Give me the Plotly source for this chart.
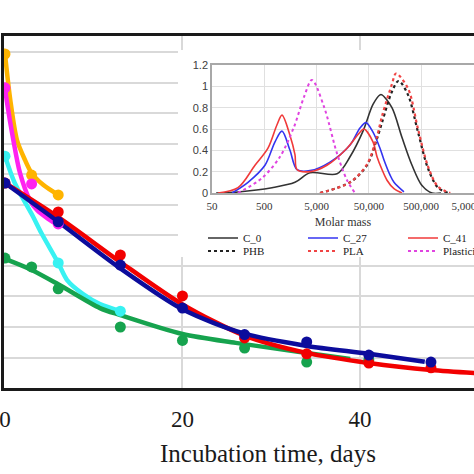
import plotly.graph_objects as go

# ---------------- main chart data (incubation time, days) ----------------
orange_days = [0, 3, 6]
orange_vals = [10.95, 6.98, 6.33]
orange_fit_t = [0, 0.6, 1.35, 2.25, 3.0, 4.3, 6.0]
orange_fit_v = [10.95, 9.44, 8.13, 7.48, 7.05, 6.66, 6.33]

magenta_days = [0, 3, 6]
magenta_vals = [9.84, 6.69, 5.38]
magenta_fit_t = [0, 0.19, 0.94, 1.69, 2.8, 3.6, 5.4, 6.0]
magenta_fit_v = [9.84, 9.44, 8.13, 7.05, 6.16, 5.84, 5.44, 5.38]

cyan_days = [0, 6, 13]
cyan_vals = [7.6, 4.1, 2.52]
cyan_fit_t = [0, 1.1, 3.2, 4.1, 6.0, 7.0, 8.8, 10.7, 13.0]
cyan_fit_v = [7.6, 6.72, 5.6, 5.08, 4.1, 3.54, 3.08, 2.75, 2.52]

red_days = [0, 6, 13, 20, 27, 34, 41, 48]
red_vals = [6.72, 5.77, 4.36, 3.02, 1.64, 1.12, 0.82, 0.66]
red_fit_t = [0, 6, 13, 20, 27, 34, 41, 48, 52.9]
red_fit_v = [6.72, 5.6, 4.13, 2.74, 1.72, 1.15, 0.82, 0.59, 0.49]

navy_days = [0, 6, 13, 20, 27, 34, 41, 48]
navy_vals = [6.72, 5.45, 4.03, 2.62, 1.75, 1.51, 1.08, 0.85]
navy_fit_t = [0, 6, 13, 20, 27, 34, 41, 47.3]
navy_fit_v = [6.72, 5.45, 3.92, 2.58, 1.78, 1.38, 1.12, 0.86]

green_days = [0, 3, 6, 13, 20, 27, 34, 41]
green_vals = [4.26, 3.97, 3.25, 2.0, 1.56, 1.31, 0.85, 0.92]
green_fit_t = [0, 3, 6, 10.7, 13, 20, 26, 34, 38.9]
green_fit_v = [4.23, 3.87, 3.4, 2.62, 2.39, 1.77, 1.48, 1.15, 0.95]

# ---------------- inset data (molar mass distributions) ----------------
c0_M = [60, 157, 702, 1930, 3740, 12300, 21800, 38600, 59900, 81500, 89000,
        138000, 215000, 334000, 518000, 804000, 1200000]
c0_v = [0, 0.01, 0.05, 0.10, 0.19, 0.18, 0.34, 0.58, 0.83, 0.92, 0.92,
        0.80, 0.52, 0.26, 0.07, 0, 0]

c27_M = [121, 244, 515, 801, 1090, 1550, 2110, 3740, 9020, 21800, 33800,
         44000, 59900, 81500, 97200, 126500, 151000, 234000]
c27_v = [0, 0.1, 0.26, 0.48, 0.58, 0.40, 0.22, 0.21, 0.29, 0.45, 0.61,
         0.66, 0.57, 0.42, 0.31, 0.17, 0.1, 0.01]

c41_M = [65, 157, 332, 588, 875, 1090, 1550, 1930, 2110, 3740, 7900, 19100,
         33800, 40300, 59900, 71500, 89000, 111000, 151000, 215000]
c41_v = [0, 0.05, 0.26, 0.42, 0.64, 0.73, 0.54, 0.36, 0.22, 0.2, 0.26, 0.42,
         0.57, 0.6, 0.48, 0.34, 0.22, 0.12, 0.04, 0]

phb_M = [5810, 21800, 46000, 71500, 89000, 138000, 185000, 280000, 435000,
         675000, 1047000, 1626000]
phb_v = [0, 0.1, 0.26, 0.51, 0.66, 0.95, 1.05, 0.92, 0.57, 0.23, 0.05, 0]

pla_M = [5810, 21800, 46000, 71500, 89000, 138000, 165000, 280000, 435000,
         675000, 1047000, 1800000]
pla_v = [0, 0.1, 0.27, 0.53, 0.72, 1.02, 1.12, 0.98, 0.60, 0.25, 0.06, 0]

plast_M = [157, 452, 998, 1850, 2870, 4080, 6920, 12300, 19100, 27100]
plast_v = [0, 0.14, 0.34, 0.62, 0.9, 1.06, 0.81, 0.37, 0.12, 0]

inset_tickvals = [50, 500, 5000, 50000, 500000, 5000000]
inset_ticktext = ["50", "500", "5,000", "50,000", "500,000", "5,000,000"]
main_tickvals = [0, 20, 40]

SERIF = "Liberation Serif, Times New Roman, serif"
SANS = "Liberation Sans, Arial, sans-serif"

fig = go.Figure()

main_series = [
    ("Series A", orange_days, orange_vals, orange_fit_t, orange_fit_v, "#FFB400"),
    ("Series B", magenta_days, magenta_vals, magenta_fit_t, magenta_fit_v, "#FF22F0"),
    ("Series C", cyan_days, cyan_vals, cyan_fit_t, cyan_fit_v, "#38F2F2"),
    ("Series F", green_days, green_vals, green_fit_t, green_fit_v, "#16A34E"),
    ("Series D", red_days, red_vals, red_fit_t, red_fit_v, "#F20000"),
    ("Series E", navy_days, navy_vals, navy_fit_t, navy_fit_v, "#0C0C9C"),
]
for name, dx, dy, ft, fv, col in main_series:
    fig.add_trace(go.Scatter(x=ft, y=fv, mode="lines", line=dict(color=col, width=4.5, shape="spline", smoothing=0.8),
                             name=name + " fit", showlegend=False, hoverinfo="skip", xaxis="x", yaxis="y"))
for name, dx, dy, ft, fv, col in main_series:
    fig.add_trace(go.Scatter(x=dx, y=dy, mode="markers", marker=dict(color=col, size=11),
                             name=name, showlegend=False, xaxis="x", yaxis="y"))

inset_series = [
    ("C_0", c0_M, c0_v, "#333333", "solid", 1.6, "legend"),
    ("C_27", c27_M, c27_v, "#3434F0", "solid", 1.6, "legend"),
    ("C_41", c41_M, c41_v, "#F03A3A", "solid", 1.6, "legend"),
    ("PHB", phb_M, phb_v, "#222222", "dot", 2.2, "legend2"),
    ("PLA", pla_M, pla_v, "#F04444", "dot", 2.2, "legend2"),
    ("Plasticizer", plast_M, plast_v, "#E044E0", "dot", 2.0, "legend2"),
]
for name, mx, my, col, dash, w, lg in inset_series:
    fig.add_trace(go.Scatter(x=mx, y=my, mode="lines", name=name, legend=lg,
                             line=dict(color=col, width=w, dash=dash, shape="spline", smoothing=0.9),
                             xaxis="x2", yaxis="y2"))

# pixel geometry helpers for layout
L, R, T, B = 4, 0, 36, 86
PW, PH = 474 - L - R, 474 - T - B
def px_x(p):
    return (p - L) / PW
def px_y(p):
    return (474 - B - p) / PH

x_range = [-0.11, 52.85]
y_range = [0, 11.54]
def day_of(p):
    return x_range[0] + (p - L) / PW * (x_range[1] - x_range[0])
def val_of(p):
    return y_range[0] + (474 - B - p) / PH * (y_range[1] - y_range[0])

legend_common = dict(orientation="h", xanchor="left", yanchor="middle",
                     entrywidth=55, entrywidthmode="pixels", bgcolor="rgba(0,0,0,0)",
                     font=dict(family=SERIF, size=11, color="#222222"), itemwidth=30)

fig.update_layout(
    width=474, height=474,
    margin=dict(l=L, r=R, t=T, b=B, autoexpand=False),
    paper_bgcolor="white", plot_bgcolor="white",
    xaxis=dict(domain=[0, 1], range=x_range, tickvals=main_tickvals, showgrid=True,
               gridcolor="#d9d9d9", gridwidth=2, showline=True, linecolor="#1a1a1a",
               linewidth=2.5, mirror=True, ticks="", zeroline=False, ticklabeloverflow="allow",
               tickfont=dict(family=SERIF, size=23, color="#1a1a1a"), ticklabelstandoff=9),
    yaxis=dict(domain=[0, 1], range=y_range, dtick=1, showgrid=True, gridcolor="#d9d9d9",
               gridwidth=2, showline=True, linecolor="#1a1a1a", linewidth=2.5, mirror=False,
               ticks="", showticklabels=False, zeroline=False),
    xaxis2=dict(domain=[px_x(212), 1.0], anchor="y2", type="log",
                range=[1.69897, 6.709], tickvals=inset_tickvals, ticktext=inset_ticktext,
                showgrid=True, gridcolor="#e0e0e0", gridwidth=1, showline=True,
                linecolor="#a8a8a8", linewidth=1.5, mirror=True, ticks="", ticklabeloverflow="allow",
                tickfont=dict(family=SERIF, size=11, color="#333333"), ticklabelstandoff=2,
                title=dict(text="Molar mass", font=dict(family=SERIF, size=12, color="#333333"), standoff=7)),
    yaxis2=dict(domain=[px_y(193), px_y(65)], anchor="x2", range=[0, 1.2], dtick=0.2,
                showgrid=True, gridcolor="#e0e0e0", gridwidth=1, showline=True,
                linecolor="#a8a8a8", linewidth=1.5, ticks="", zeroline=False,
                tickfont=dict(family=SANS, size=11, color="#404040")),
    legend=dict(x=px_x(203), y=px_y(238), **legend_common),
    legend2=dict(x=px_x(203), y=px_y(251), **legend_common),
    shapes=[dict(type="rect", xref="x", yref="y", layer="between",
                 x0=day_of(178), x1=60, y0=val_of(257), y1=val_of(50),
                 fillcolor="white", line=dict(width=0))],
    annotations=[dict(text="Incubation time, days", xref="paper", yref="paper",
                      x=px_x(268), y=px_y(453), xanchor="center", yanchor="middle",
                      showarrow=False, font=dict(family=SERIF, size=25, color="#1a1a1a"))],
)

fig.write_html("out.html")
